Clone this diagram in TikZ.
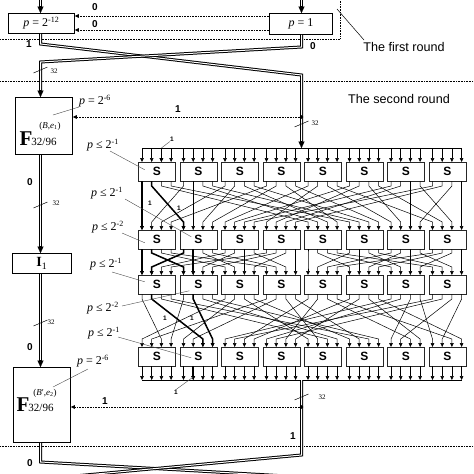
\documentclass[tikz,border=0pt]{standalone}
\usepackage{fontspec}
\setmainfont{Liberation Serif}
\setsansfont{Liberation Sans}
\usetikzlibrary{arrows.meta,calc}
\begin{document}
\begin{tikzpicture}[x=1pt,y=-1pt,
  box/.style={draw,line width=0.8pt,inner sep=0pt,anchor=north west},
  sbox/.style={draw=black!85,line width=0.6pt,inner sep=0pt,minimum width=37pt,minimum height=19pt,anchor=north west,font=\sffamily\bfseries\fontsize{12}{12}\selectfont},
  wire/.style={line width=0.5pt},
  thk/.style={line width=1.5pt},
  tip/.style={-{Triangle[length=4pt,width=3.6pt]}},
  dhead/.style={-{Triangle[length=6.5pt,width=6pt]},line width=0.1pt},
  dbl/.style={double,double distance=1pt,line width=1pt},
  dotl/.style={densely dotted,line width=0.6pt},
  bl/.style={font=\sffamily\bfseries\fontsize{10}{10}\selectfont,inner sep=0pt},
  sl/.style={font=\sffamily\bfseries\fontsize{6.5}{6.5}\selectfont,inner sep=0pt},
  nm/.style={font=\fontsize{7}{7}\selectfont,inner sep=0pt},
  pl/.style={font=\fontsize{12}{12}\selectfont,inner sep=0pt},
  lead/.style={line width=0.4pt,black!70},
  rt/.style={font=\sffamily\fontsize{12.6}{12.6}\selectfont,inner sep=0pt}
]
\useasboundingbox (0,0) rectangle (474,474);
\clip (0,0) rectangle (474,474);
\fill[white] (0,0) rectangle (474,474);

\coordinate (cl) at (40.5,0);
\coordinate (cr) at (301.5,0);
\coordinate (busin) at (301.5,148);
\coordinate (busout) at (301.5,380);

% ---------- boxes of the left column ----------
\node[box,minimum width=66pt,minimum height=20pt] (p12) at (8,13) {\fontsize{12}{12}\selectfont\textit{p} = 2\textsuperscript{-12}};
\node[box,minimum width=63pt,minimum height=21pt] (p1) at (269,13) {\fontsize{12}{12}\selectfont\textit{p} = 1};
\node[box,minimum width=57pt,minimum height=57pt] (F1) at (15,97) {};
\node[inner sep=0pt,font=\bfseries\fontsize{21}{21}\selectfont] (F1a) at (26,139) {F};
\node[inner sep=0pt,font=\fontsize{11}{11}\selectfont] (F1b) at (44,142) {32/96};
\node[inner sep=0pt,font=\fontsize{9}{9}\selectfont] (F1c) at (50,126) {(\textit{B},\textit{e}\textsubscript{1})};
\node[box,minimum width=59pt,minimum height=20pt] (I1) at (12,253) {\fontsize{14}{14}\selectfont\textbf{I}\textsubscript{1}};
\node[box,minimum width=57pt,minimum height=75pt] (F2) at (13,367) {};
\node[inner sep=0pt,font=\bfseries\fontsize{21}{21}\selectfont] (F2a) at (23,405) {F};
\node[inner sep=0pt,font=\fontsize{11}{11}\selectfont] (F2b) at (41,408) {32/96};
\node[inner sep=0pt,font=\fontsize{9}{9}\selectfont] (F2c) at (45,393) {(\textit{B}′,\textit{e}\textsubscript{2})};

% ---------- frames and round labels ----------
\draw[dotl] (0,39) -- (340,39) -- (340,0);
\draw[line width=0.5pt] (337,9) -- (364,40);
\node[rt] (r1) at (404,47) {The first round};
\draw[dotl] (0,81) -- (474,81);
\node[rt] (r2) at (399,99) {The second round};
\draw[dotl] (0,446) -- (474,446);

% ---------- top inputs ----------
\draw[dbl,shorten >=5pt] (cl) -- (p12.north -| cl);
\draw[dhead] ($(p12.north -| cl)+(0,-7)$) -- (p12.north -| cl);
\draw[dbl,shorten >=5pt] (cr) -- (p1.north -| cr);
\draw[dhead] ($(p1.north -| cr)+(0,-7)$) -- (p1.north -| cr);
\draw[dotl,tip] ($(p1.north west)+(0,3)$) -- ($(p12.north east)+(0,3)$);
\draw[dotl,tip] ($(p1.north west)+(0,17)$) -- ($(p12.north east)+(0,17)$);
\node[bl] (z1) at (95,7) {0};
\node[bl] (z2) at (95,24) {0};

% ---------- S-box grid ----------
\foreach \rw/\ty in {1/162,2/230,3/275,4/347}{
  \foreach \bx in {0,...,7}{
    \pgfmathsetmacro\lx{138+41.5*\bx}
    \node[sbox] (s\rw-\bx) at (\lx,\ty) {S};
    \foreach \pj in {0,...,3}{
      \pgfmathsetmacro\px{\lx+4+9.7*\pj}
      \coordinate (in\rw-\bx-\pj) at (\px,\ty);
      \coordinate (out\rw-\bx-\pj) at (\px,\ty+19);
    }
  }
}
% input and output buses
\draw[wire] (in1-0-0 |- busin) -- (in1-7-3 |- busin);
\foreach \bx in {0,...,7}{\foreach \pj in {0,...,3}{
  \draw[wire,tip] (in1-\bx-\pj |- busin) -- (in1-\bx-\pj);
  \draw[wire,tip] (out4-\bx-\pj) -- (out4-\bx-\pj |- busout);
}}
\draw[wire] (out4-0-0 |- busout) -- (out4-7-3 |- busout);
% row 1 -> 2
\foreach \si in {0,...,7}{\foreach \sj in {0,...,3}{
  \pgfmathtruncatemacro\tb{4*int(\sj/2)+2*int(\si/4)+mod(\sj,2)}
  \pgfmathtruncatemacro\tk{mod(\si,4)}
  \draw[wire,tip] (out1-\si-\sj) -- ++(0,5) -- ($(in2-\tb-\tk)+(0,-8)$) -- (in2-\tb-\tk);
}}
% row 2 -> 3
\foreach \si in {0,...,7}{\foreach \sj in {0,...,3}{
  \pgfmathtruncatemacro\tb{4*int(\si/4)+\sj}
  \pgfmathtruncatemacro\tk{mod(\si,4)}
  \draw[wire,tip] (out2-\si-\sj) -- ++(0,4) -- ($(in3-\tb-\tk)+(0,-8)$) -- (in3-\tb-\tk);
}}
% row 3 -> 4
\foreach \si in {0,...,7}{\foreach \sj in {0,...,3}{
  \pgfmathtruncatemacro\tb{4*int(\sj/2)+2*int(\si/4)+mod(\sj,2)}
  \pgfmathtruncatemacro\tk{mod(\si+2,4)}
  \draw[wire,tip] (out3-\si-\sj) -- ++(0,5) -- ($(in4-\tb-\tk)+(0,-8)$) -- (in4-\tb-\tk);
}}
% active path
\draw[thk,tip] (in1-0-2 |- busin) -- (in1-0-2);
\draw[thk,tip] (out1-0-0) -- (in2-0-0);
\draw[thk,tip] (out1-0-1) -- ++(0,5) -- ($(in2-1-0)+(0,-8)$) -- (in2-1-0);
\draw[thk,tip] (out2-0-0) -- (in3-0-0);
\draw[thk,tip] (out2-0-1) -- ++(0,4) -- ($(in3-1-0)+(0,-8)$) -- (in3-1-0);
\draw[thk,tip] (out2-1-0) -- ++(0,4) -- ($(in3-0-1)+(0,-8)$) -- (in3-0-1);
\draw[thk,tip] (out2-1-1) -- (in3-1-1);
\draw[thk,tip] (out3-0-1) -- ++(0,5) -- ($(in4-1-2)+(0,-8)$) -- (in4-1-2);
\draw[thk,tip] (out3-1-1) -- ++(0,5) -- ($(in4-1-3)+(0,-8)$) -- (in4-1-3);
\draw[thk,tip] (out4-1-1) -- (out4-1-1 |- busout);

% grid "1" labels
\node[sl] (g1) at (172,139) {1};
\draw[lead] (g1.south west) -- (in1-0-2 |- busin);
\node[sl] (g2) at (150,203) {1};
\node[sl] (g3) at (179,208) {1};
\node[sl] (g4) at (165,318) {1};
\node[sl] (g5) at (192,318) {1};
\node[sl] (g6) at (176,392) {1};
\draw[lead] (g6.north) -- ($(out4-1-1)+(0,11)$);

% probability labels
\node[pl] (pa) at (103,145) {\textit{p} ≤ 2\textsuperscript{-1}};
\draw[lead] (110,151) -- ($(s1-0.center)+(-12,-2)$);
\node[pl] (pb) at (107,193) {\textit{p} ≤ 2\textsuperscript{-1}};
\draw[lead] (125,199) -- ($(s2-1.center)+(-7,-3)$);
\node[pl] (pc) at (108,227) {\textit{p} ≤ 2\textsuperscript{-2}};
\draw[lead] (122,233) -- ($(s2-0.center)+(-12,3)$);
\node[pl] (pd) at (106,264) {\textit{p} ≤ 2\textsuperscript{-1}};
\draw[lead] (112,272) -- ($(s3-0.center)+(-12,-3)$);
\node[pl] (pe) at (103,308) {\textit{p} ≤ 2\textsuperscript{-2}};
\draw[lead] (122,306) -- ($(s3-1.center)+(-9,6)$);
\node[pl] (pf) at (104,333) {\textit{p} ≤ 2\textsuperscript{-1}};
\draw[lead] (118,337) -- ($(s4-1.center)+(-7,1)$);
\node[pl] (q1) at (95,101) {\textit{p} = 2\textsuperscript{-6}};
\draw[lead] (79,107) -- (53,115);
\node[pl] (q2) at (93,361) {\textit{p} = 2\textsuperscript{-6}};
\draw[lead] (88,369) -- (53,387);

% ---------- column connections ----------
\coordinate (a1) at (40.5,44); \coordinate (a2) at (301.5,75);
\coordinate (b1) at (301.5,47); \coordinate (b2) at (40.5,62);
\draw[dbl,shorten >=5pt] (p12.south -| cl) -- (a1) -- (a2) -- (busin);
\draw[dhead] ($(busin)+(0,-7)$) -- (busin);
\draw[dbl,shorten >=5pt] (p1.south -| cr) -- (b1) -- (b2) -- (F1.north -| cl);
\draw[dhead] ($(F1.north -| cl)+(0,-7)$) -- (F1.north -| cl);
\node[bl] (o1) at (29,44) {1};
\node[bl] (o2) at (313,46) {0};
\draw[dbl,shorten >=5pt] (F1.south -| cl) -- (I1.north -| cl);
\draw[dhead] ($(I1.north -| cl)+(0,-7)$) -- (I1.north -| cl);
\draw[dbl,shorten >=5pt] (I1.south -| cl) -- (F2.north -| cl);
\draw[dhead] ($(F2.north -| cl)+(0,-7)$) -- (F2.north -| cl);
\coordinate (c1) at (40.5,462); \coordinate (c2) at (330,478.5);
\draw[dbl] (F2.south -| cl) -- (c1) -- (c2);
\coordinate (d1) at (301.5,455); \coordinate (d2) at (10,482);
\draw[dbl] (busout) -- (d1) -- (d2);
\node[bl] (o3) at (30,182) {0};
\node[bl] (o4) at (30,347) {0};
\node[bl] (o5) at (30,463) {0};
\node[bl] (o6) at (293,436) {1};

% dots and feedback
\coordinate (dt1) at (301.5,117);
\fill (dt1) circle (1.8pt);
\draw[dotl,tip] (dt1) -- (F1.east |- dt1);
\node[bl] (o7) at (178,109) {1};
\coordinate (dt2) at (301.5,407);
\fill (dt2) circle (1.8pt);
\draw[dotl,tip] (dt2) -- (F2.east |- dt2);
\node[bl] (o8) at (105,401) {1};

% bus-width marks
\foreach \nm/\sx/\sy/\tx/\tyy in {w1/40.5/70/54/71, w2/40.5/205/56/203, w3/40.5/323/51/322, w4/301.5/124/315/123, w5/301.5/397/322/397}{
  \draw[line width=0.5pt] (\sx-7,\sy+3) -- (\sx+7,\sy-3);
  \node[nm] (\nm) at (\tx,\tyy) {32};
}
\end{tikzpicture}
\end{document}
